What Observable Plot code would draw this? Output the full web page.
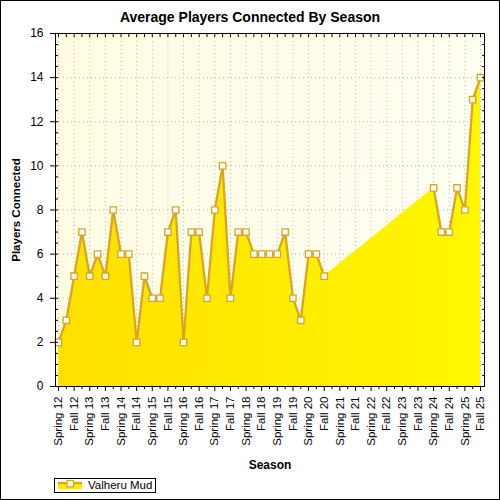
<!DOCTYPE html>
<html>
<head>
<meta charset="utf-8">
<script src="https://cdn.jsdelivr.net/npm/d3@7"></script>
<script src="https://cdn.jsdelivr.net/npm/@observablehq/plot@0.6"></script>
<style>
  body { margin: 0; background: white; }
  svg { display: block; }
</style>
</head>
<body>
<div id="chart"></div>
<script>
const seasons = ["Spring 12","Fall 12","Spring 13","Fall 13","Spring 14","Fall 14","Spring 15","Fall 15",
  "Spring 16","Fall 16","Spring 17","Fall 17","Spring 18","Fall 18","Spring 19","Fall 19",
  "Spring 20","Fall 20","Spring 21","Fall 21","Spring 22","Fall 22","Spring 23","Fall 23",
  "Spring 24","Fall 24","Spring 25","Fall 25"];
const players = [2,3,5,7,5,6,5,8,6,6,2,5,4,4,7,8,2,7,7,4,8,10,4,7,7,6,6,6,6,7,4,3,6,6,5,
  null,null,null,null,null,null,null,null,null,null,null,null,null,
  9,7,7,9,8,13,14];
const yTicks = [0,2,4,6,8,10,12,14,16];
const seriesName = "Valheru Mud";

const data = players.map((v, i) => ({i, v}));
const known = data.filter(d => d.v != null);
const majorX = d3.range(0, players.length, 2);
const minorX = d3.range(1, players.length, 2);
const allX = d3.range(0, players.length);
const minorY = d3.range(0, 16.01, 0.5);
const gold = "#DAA520";
const font = "'Liberation Sans', Arial, sans-serif";

const svg = Plot.plot({
  width: 500, height: 500,
  marginLeft: 55, marginRight: 16, marginTop: 33, marginBottom: 114,
  style: {fontFamily: font, fontSize: "11.5px", color: "black", background: "white"},
  x: {domain: [-0.384, 54.512], axis: null},
  y: {domain: [0, 16], axis: null},
  marks: [
    Plot.frame({fill: "url(#bgGrad)"}),
    Plot.gridY(yTicks, {stroke: "#b8b8b8", strokeOpacity: 1, strokeDasharray: "1,3"}),
    Plot.gridX(majorX, {stroke: "#b8b8b8", strokeOpacity: 1, strokeDasharray: "1,3"}),
    Plot.areaY(known, {x: "i", y: "v", fill: "url(#areaGrad)"}),
    Plot.lineY(data, {x: "i", y: d => d.v == null ? NaN : d.v, stroke: gold, strokeWidth: 2.3}),
    Plot.dot(known, {x: "i", y: "v", symbol: "square", r: 3.6, fill: "white", stroke: gold, strokeWidth: 1.3}),
    Plot.axisY({ticks: yTicks, tickSize: 5, tickPadding: 7, label: null, fontSize: 12}),
    Plot.axisY({ticks: minorY, tickSize: 3, dx: 3, text: null, label: null}),
    Plot.axisY({anchor: "right", ticks: minorY, tickSize: 3, dx: -3, text: null, label: null}),
    Plot.axisX({ticks: majorX, tickSize: 5, tickPadding: 5, tickRotate: -90, label: null,
      tickFormat: i => seasons[i / 2]}),
    Plot.axisX({ticks: minorX, tickSize: 3, text: null, label: null}),
    Plot.axisX({anchor: "top", ticks: allX, tickSize: 3, dy: 3, text: null, label: null}),
    Plot.frame({stroke: "black"})
  ]
});

const s = d3.select(svg);
const defs = s.insert("defs", ":first-child");
const ag = defs.append("linearGradient").attr("id", "areaGrad")
  .attr("x1", "0%").attr("y1", "0%").attr("x2", "100%").attr("y2", "0%");
ag.append("stop").attr("offset", "0%").attr("stop-color", "#FFE000");
ag.append("stop").attr("offset", "100%").attr("stop-color", "#FFF700");
const bg = defs.append("linearGradient").attr("id", "bgGrad")
  .attr("x1", "0%").attr("y1", "0%").attr("x2", "100%").attr("y2", "30%");
bg.append("stop").attr("offset", "0%").attr("stop-color", "#FFFCE0");
bg.append("stop").attr("offset", "100%").attr("stop-color", "#FFFFF3");

// outer border
s.append("rect").attr("x", 0.5).attr("y", 0.5).attr("width", 499).attr("height", 499)
  .attr("fill", "none").attr("stroke", "black");

// title & axis labels
s.append("text").attr("x", 250).attr("y", 22).attr("text-anchor", "middle")
  .attr("font-weight", "bold").attr("font-size", 14).attr("font-family", font)
  .text("Average Players Connected By Season");
s.append("text").attr("x", 270).attr("y", 469).attr("text-anchor", "middle")
  .attr("font-weight", "bold").attr("font-size", 12).attr("font-family", font)
  .text("Season");
s.append("text").attr("transform", "translate(20,210) rotate(-90)").attr("text-anchor", "middle")
  .attr("font-weight", "bold").attr("font-size", 11.5).attr("font-family", font)
  .text("Players Connected");

// legend
const lg = s.append("g");
lg.append("rect").attr("x", 54.5).attr("y", 478.5).attr("width", 101).attr("height", 14)
  .attr("fill", "white").attr("stroke", "black");
lg.append("rect").attr("x", 58).attr("y", 483).attr("width", 24).attr("height", 6).attr("fill", "#FFEA00");
lg.append("line").attr("x1", 58).attr("x2", 82).attr("y1", 483).attr("y2", 483)
  .attr("stroke", gold).attr("stroke-width", 2.3);
lg.append("rect").attr("x", 67).attr("y", 480.5).attr("width", 6.5).attr("height", 6.5)
  .attr("fill", "white").attr("stroke", gold).attr("stroke-width", 1.3);
lg.append("text").attr("x", 88).attr("y", 489).attr("text-anchor", "start")
  .attr("font-size", 11.5).attr("font-family", font)
  .text(seriesName);

document.getElementById("chart").appendChild(svg);
</script>
</body>
</html>
